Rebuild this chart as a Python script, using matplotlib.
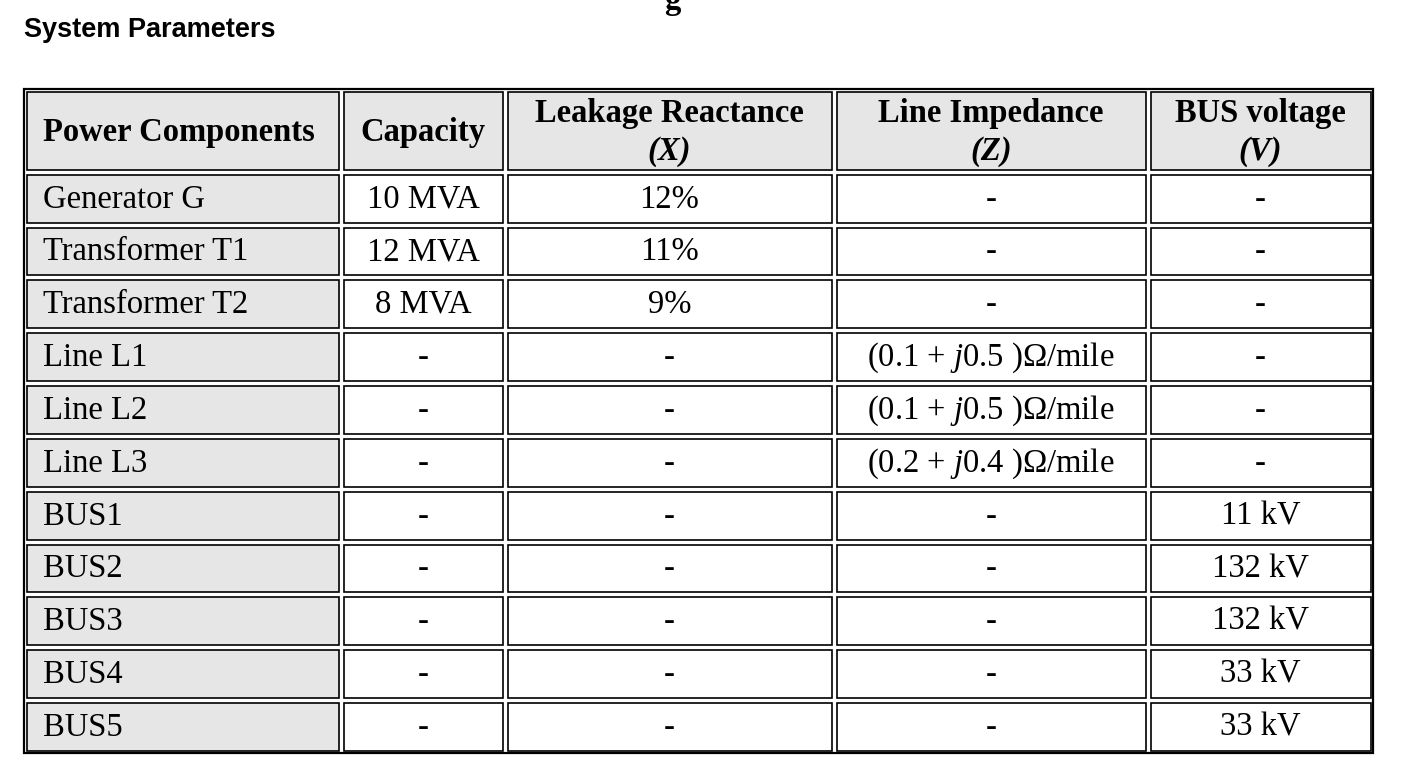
import matplotlib.pyplot as plt
from matplotlib.patches import Rectangle

title = "System Parameters"
headers = ["Power Components", "Capacity", "Leakage Reactance\n(X)",
           "Line Impedance\n(Z)", "BUS voltage\n(V)"]
components = ["Generator G", "Transformer T1", "Transformer T2", "Line L1", "Line L2",
              "Line L3", "BUS1", "BUS2", "BUS3", "BUS4", "BUS5"]
capacity = ["10 MVA", "12 MVA", "8 MVA", "-", "-", "-", "-", "-", "-", "-", "-"]
reactance = ["12%", "11%", "9%", "-", "-", "-", "-", "-", "-", "-", "-"]
impedance = ["-", "-", "-", "(0.1 + $j$0.5 )Ω/mile", "(0.1 + $j$0.5 )Ω/mile",
             "(0.2 + $j$0.4 )Ω/mile", "-", "-", "-", "-", "-"]
bus_voltage = ["-", "-", "-", "-", "-", "-", "11 kV", "132 kV", "132 kV", "33 kV", "33 kV"]

col_edges = [24, 341, 505, 834, 1148, 1373]
row_edges = [89, 172, 225, 277, 330, 383, 436, 489, 542, 594, 647, 700, 753]

plt.rcParams['mathtext.fontset'] = 'custom'
plt.rcParams['mathtext.it'] = 'Liberation Serif:italic'
plt.rcParams['mathtext.rm'] = 'Liberation Serif'

FS = 23.5

fig = plt.figure(figsize=(14.05, 7.68), dpi=100)
ax = fig.add_axes([0, 0, 1, 1])
ax.set_xlim(0, 1405)
ax.set_ylim(768, 0)
ax.axis('off')

ax.text(24, 30, title, fontsize=19.5, fontweight='bold', va='center', ha='left',
        family=['Liberation Sans Narrow', 'Liberation Sans', 'DejaVu Sans'])
ax.text(672, 0, "g", fontsize=FS, fontweight='bold', va='center', ha='center',
        family=['Liberation Serif'])

# outer border
ax.add_patch(Rectangle((col_edges[0], row_edges[0]), col_edges[-1] - col_edges[0],
                       row_edges[-1] - row_edges[0], fill=False, lw=1.6, ec='black'))

columns = [components, capacity, reactance, impedance, bus_voltage]
gap = 2.5
for r in range(len(row_edges) - 1):
    y0, y1 = row_edges[r], row_edges[r + 1]
    for c in range(len(col_edges) - 1):
        x0, x1 = col_edges[c], col_edges[c + 1]
        shaded = r == 0 or c == 0
        ax.add_patch(Rectangle((x0 + gap, y0 + gap), x1 - x0 - 2 * gap, y1 - y0 - 2 * gap,
                               fc='#e6e6e6' if shaded else 'white', ec='black', lw=1.2))
        if r == 0:
            txt = headers[c]
            if '\n' in txt:
                a, b = txt.split('\n')
                ax.text((x0 + x1) / 2, (y0 + y1) / 2 - 17, a, fontsize=FS, fontweight='bold',
                        ha='center', va='center', family='Liberation Serif')
                ax.text((x0 + x1) / 2, (y0 + y1) / 2 + 21, b, fontsize=FS, fontweight='bold',
                        style='italic', ha='center', va='center', family='Liberation Serif')
            else:
                ax.text(x0 + 19, (y0 + y1) / 2 + 2, txt, fontsize=FS, fontweight='bold',
                        ha='left', va='center', family='Liberation Serif')
        else:
            txt = columns[c][r - 1]
            if c == 0:
                ax.text(x0 + 19, (y0 + y1) / 2 + 1, txt, fontsize=FS, ha='left', va='center',
                        family='Liberation Serif')
            else:
                ax.text((x0 + x1) / 2, (y0 + y1) / 2 + 1, txt, fontsize=FS, ha='center',
                        va='center', family='Liberation Serif')

fig.savefig('out.png', dpi=100)
